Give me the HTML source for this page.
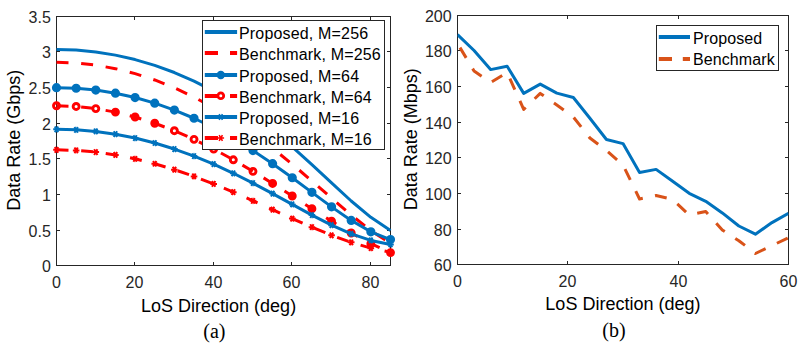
<!DOCTYPE html>
<html><head><meta charset="utf-8"><style>
html,body{margin:0;padding:0;background:#fff;}
svg{display:block;}
.t16{font-family:"Liberation Sans",sans-serif;font-size:16px;fill:#262626;}
.t18{font-family:"Liberation Sans",sans-serif;font-size:18px;fill:#000;}
.ls{letter-spacing:0.17px;fill:#000;}
.ts{font-family:"Liberation Serif",serif;font-size:20px;fill:#000;}
</style></head><body>
<svg width="803" height="344" viewBox="0 0 803 344">
<rect width="803" height="344" fill="#fff"/>
<rect x="56.5" y="16.5" width="334.0" height="249.0" fill="#fff" stroke="none"/>
<path d="M56.5,265.5v-3.5M56.5,16.5v3.5M134.5,265.5v-3.5M134.5,16.5v3.5M213.5,265.5v-3.5M213.5,16.5v3.5M291.5,265.5v-3.5M291.5,16.5v3.5M370.5,265.5v-3.5M370.5,16.5v3.5M56.5,265.5h3.5M390.5,265.5h-3.5M56.5,230.5h3.5M390.5,230.5h-3.5M56.5,194.5h3.5M390.5,194.5h-3.5M56.5,158.5h3.5M390.5,158.5h-3.5M56.5,123.5h3.5M390.5,123.5h-3.5M56.5,87.5h3.5M390.5,87.5h-3.5M56.5,51.5h3.5M390.5,51.5h-3.5M56.5,16.5h3.5M390.5,16.5h-3.5" stroke="#262626" stroke-width="1" fill="none"/>
<rect x="56.5" y="16.5" width="334.0" height="249.0" fill="none" stroke="#262626" stroke-width="1"/>
<clipPath id="cl"><rect x="50.5" y="10.5" width="346.0" height="261.0"/></clipPath>
<g clip-path="url(#cl)"><polyline points="56.50,49.47 76.15,50.10 95.79,51.98 115.44,55.13 135.09,59.58 154.74,65.37 174.38,72.52 194.03,81.10 213.68,91.17 233.32,102.77 252.97,115.94 272.62,130.70 292.26,146.98 311.91,164.53 331.56,182.87 351.21,201.01 370.85,217.29 390.50,230.47" fill="none" stroke="#0072BD" stroke-width="3.0" stroke-linejoin="round" stroke-linecap="butt"/><polyline points="56.50,62.30 76.15,63.00 95.79,65.12 115.44,68.65 135.09,73.60 154.74,79.98 174.38,87.81 194.03,97.08 213.68,107.80 233.32,119.94 252.97,133.46 272.62,148.26 292.26,164.19 311.91,180.96 331.56,198.14 351.21,215.04 370.85,230.58 390.50,243.16" fill="none" stroke="#FF0000" stroke-width="3.0" stroke-linejoin="round" stroke-linecap="butt" stroke-dasharray="12 12.7"/><polyline points="56.50,87.64 76.15,88.26 95.79,90.10 115.44,93.19 135.09,97.54 154.74,103.15 174.38,110.05 194.03,118.25 213.68,127.75 233.32,138.53 252.97,150.56 272.62,163.70 292.26,177.75 311.91,192.34 331.56,206.86 351.21,220.41 370.85,231.79 390.50,239.60" fill="none" stroke="#0072BD" stroke-width="3.0" stroke-linejoin="round" stroke-linecap="butt"/><circle cx="56.50" cy="87.64" r="3.3" fill="#0072BD" stroke="#0072BD" stroke-width="2.6"/><circle cx="76.15" cy="88.26" r="3.3" fill="#0072BD" stroke="#0072BD" stroke-width="2.6"/><circle cx="95.79" cy="90.10" r="3.3" fill="#0072BD" stroke="#0072BD" stroke-width="2.6"/><circle cx="115.44" cy="93.19" r="3.3" fill="#0072BD" stroke="#0072BD" stroke-width="2.6"/><circle cx="135.09" cy="97.54" r="3.3" fill="#0072BD" stroke="#0072BD" stroke-width="2.6"/><circle cx="154.74" cy="103.15" r="3.3" fill="#0072BD" stroke="#0072BD" stroke-width="2.6"/><circle cx="174.38" cy="110.05" r="3.3" fill="#0072BD" stroke="#0072BD" stroke-width="2.6"/><circle cx="194.03" cy="118.25" r="3.3" fill="#0072BD" stroke="#0072BD" stroke-width="2.6"/><circle cx="213.68" cy="127.75" r="3.3" fill="#0072BD" stroke="#0072BD" stroke-width="2.6"/><circle cx="233.32" cy="138.53" r="3.3" fill="#0072BD" stroke="#0072BD" stroke-width="2.6"/><circle cx="252.97" cy="150.56" r="3.3" fill="#0072BD" stroke="#0072BD" stroke-width="2.6"/><circle cx="272.62" cy="163.70" r="3.3" fill="#0072BD" stroke="#0072BD" stroke-width="2.6"/><circle cx="292.26" cy="177.75" r="3.3" fill="#0072BD" stroke="#0072BD" stroke-width="2.6"/><circle cx="311.91" cy="192.34" r="3.3" fill="#0072BD" stroke="#0072BD" stroke-width="2.6"/><circle cx="331.56" cy="206.86" r="3.3" fill="#0072BD" stroke="#0072BD" stroke-width="2.6"/><circle cx="351.21" cy="220.41" r="3.3" fill="#0072BD" stroke="#0072BD" stroke-width="2.6"/><circle cx="370.85" cy="231.79" r="3.3" fill="#0072BD" stroke="#0072BD" stroke-width="2.6"/><circle cx="390.50" cy="239.60" r="3.3" fill="#0072BD" stroke="#0072BD" stroke-width="2.6"/><polyline points="56.50,105.75 76.15,106.46 95.79,108.59 115.44,112.12 135.09,117.01 154.74,123.23 174.38,130.71 194.03,139.37 213.68,149.11 233.32,159.82 252.97,171.33 272.62,183.47 292.26,196.01 311.91,208.67 331.56,221.14 351.21,233.00 370.85,243.74 390.50,252.59" fill="none" stroke="#FF0000" stroke-width="3.0" stroke-linejoin="round" stroke-linecap="butt" stroke-dasharray="12 12.7"/><circle cx="56.50" cy="105.75" r="3.0" fill="none" stroke="#FF0000" stroke-width="2.9"/><circle cx="76.15" cy="106.46" r="3.0" fill="none" stroke="#FF0000" stroke-width="2.9"/><circle cx="95.79" cy="108.59" r="3.0" fill="none" stroke="#FF0000" stroke-width="2.9"/><circle cx="115.44" cy="112.12" r="3.0" fill="#FF0000" stroke="#FF0000" stroke-width="2.9"/><circle cx="135.09" cy="117.01" r="3.0" fill="#FF0000" stroke="#FF0000" stroke-width="2.9"/><circle cx="154.74" cy="123.23" r="3.0" fill="#FF0000" stroke="#FF0000" stroke-width="2.9"/><circle cx="174.38" cy="130.71" r="3.0" fill="none" stroke="#FF0000" stroke-width="2.9"/><circle cx="194.03" cy="139.37" r="3.0" fill="none" stroke="#FF0000" stroke-width="2.9"/><circle cx="213.68" cy="149.11" r="3.0" fill="none" stroke="#FF0000" stroke-width="2.9"/><circle cx="233.32" cy="159.82" r="3.0" fill="none" stroke="#FF0000" stroke-width="2.9"/><circle cx="252.97" cy="171.33" r="3.0" fill="none" stroke="#FF0000" stroke-width="2.9"/><circle cx="272.62" cy="183.47" r="3.0" fill="#FF0000" stroke="#FF0000" stroke-width="2.9"/><circle cx="292.26" cy="196.01" r="3.0" fill="#FF0000" stroke="#FF0000" stroke-width="2.9"/><circle cx="311.91" cy="208.67" r="3.0" fill="#FF0000" stroke="#FF0000" stroke-width="2.9"/><circle cx="331.56" cy="221.14" r="3.0" fill="#FF0000" stroke="#FF0000" stroke-width="2.9"/><circle cx="351.21" cy="233.00" r="3.0" fill="#FF0000" stroke="#FF0000" stroke-width="2.9"/><circle cx="370.85" cy="243.74" r="3.0" fill="#FF0000" stroke="#FF0000" stroke-width="2.9"/><circle cx="390.50" cy="252.59" r="3.0" fill="none" stroke="#FF0000" stroke-width="2.9"/><polyline points="56.50,129.28 76.15,129.83 95.79,131.48 115.44,134.23 135.09,138.07 154.74,143.01 174.38,149.04 194.03,156.12 213.68,164.23 233.32,173.27 252.97,183.14 272.62,193.61 292.26,204.41 311.91,215.10 331.56,225.13 351.21,233.82 370.85,240.45 390.50,244.48" fill="none" stroke="#0072BD" stroke-width="3.0" stroke-linejoin="round" stroke-linecap="butt"/><path d="M53.20,129.28h6.60M54.85,126.43l3.30,5.72M54.85,132.14l3.30,-5.72M72.85,129.83h6.60M74.50,126.97l3.30,5.72M74.50,132.69l3.30,-5.72M92.49,131.48h6.60M94.14,128.62l3.30,5.72M94.14,134.34l3.30,-5.72M112.14,134.23h6.60M113.79,131.37l3.30,5.72M113.79,137.09l3.30,-5.72M131.79,138.07h6.60M133.44,135.21l3.30,5.72M133.44,140.93l3.30,-5.72M151.44,143.01h6.60M153.09,140.16l3.30,5.72M153.09,145.87l3.30,-5.72M171.08,149.04h6.60M172.73,146.18l3.30,5.72M172.73,151.90l3.30,-5.72M190.73,156.12h6.60M192.38,153.27l3.30,5.72M192.38,158.98l3.30,-5.72M210.38,164.23h6.60M212.03,161.37l3.30,5.72M212.03,167.09l3.30,-5.72M230.02,173.27h6.60M231.67,170.42l3.30,5.72M231.67,176.13l3.30,-5.72M249.67,183.14h6.60M251.32,180.28l3.30,5.72M251.32,185.99l3.30,-5.72M269.32,193.61h6.60M270.97,190.76l3.30,5.72M270.97,196.47l3.30,-5.72M288.96,204.41h6.60M290.61,201.55l3.30,5.72M290.61,207.27l3.30,-5.72M308.61,215.10h6.60M310.26,212.25l3.30,5.72M310.26,217.96l3.30,-5.72M328.26,225.13h6.60M329.91,222.27l3.30,5.72M329.91,227.99l3.30,-5.72M347.91,233.82h6.60M349.56,230.96l3.30,5.72M349.56,236.67l3.30,-5.72M367.55,240.45h6.60M369.20,237.60l3.30,5.72M369.20,243.31l3.30,-5.72M387.20,244.48h6.60M388.85,241.62l3.30,5.72M388.85,247.34l3.30,-5.72" stroke="#0072BD" stroke-width="2.0" fill="none"/><polyline points="56.50,149.82 76.15,150.39 95.79,152.09 115.44,154.91 135.09,158.81 154.74,163.74 174.38,169.64 194.03,176.42 213.68,183.97 233.32,192.15 252.97,200.79 272.62,209.68 292.26,218.59 311.91,227.22 331.56,235.26 351.21,242.37 370.85,248.14 390.50,252.16" fill="none" stroke="#FF0000" stroke-width="3.0" stroke-linejoin="round" stroke-linecap="butt" stroke-dasharray="12 12.7"/><path d="M53.20,149.82h6.60M54.85,146.96l3.30,5.72M54.85,152.68l3.30,-5.72M72.85,150.39h6.60M74.50,147.53l3.30,5.72M74.50,153.25l3.30,-5.72M92.49,152.09h6.60M94.14,149.24l3.30,5.72M94.14,154.95l3.30,-5.72M112.14,154.91h6.60M113.79,152.05l3.30,5.72M113.79,157.77l3.30,-5.72M131.79,158.81h6.60M133.44,155.95l3.30,5.72M133.44,161.67l3.30,-5.72M151.44,163.74h6.60M153.09,160.89l3.30,5.72M153.09,166.60l3.30,-5.72M171.08,169.64h6.60M172.73,166.78l3.30,5.72M172.73,172.50l3.30,-5.72M190.73,176.42h6.60M192.38,173.56l3.30,5.72M192.38,179.28l3.30,-5.72M210.38,183.97h6.60M212.03,181.11l3.30,5.72M212.03,186.83l3.30,-5.72M230.02,192.15h6.60M231.67,189.29l3.30,5.72M231.67,195.01l3.30,-5.72M249.67,200.79h6.60M251.32,197.93l3.30,5.72M251.32,203.64l3.30,-5.72M269.32,209.68h6.60M270.97,206.82l3.30,5.72M270.97,212.54l3.30,-5.72M288.96,218.59h6.60M290.61,215.73l3.30,5.72M290.61,221.44l3.30,-5.72M308.61,227.22h6.60M310.26,224.36l3.30,5.72M310.26,230.08l3.30,-5.72M328.26,235.26h6.60M329.91,232.41l3.30,5.72M329.91,238.12l3.30,-5.72M347.91,242.37h6.60M349.56,239.51l3.30,5.72M349.56,245.22l3.30,-5.72M367.55,248.14h6.60M369.20,245.28l3.30,5.72M369.20,251.00l3.30,-5.72M387.20,252.16h6.60M388.85,249.30l3.30,5.72M388.85,255.02l3.30,-5.72" stroke="#FF0000" stroke-width="2.0" fill="none"/></g>
<rect x="202.5" y="20.5" width="182.0" height="129.0" fill="#fff" stroke="#262626" stroke-width="1"/>
<line x1="204.8" y1="32" x2="237.1" y2="32" stroke="#0072BD" stroke-width="4"/>
<text x="239" y="38.5" class="t16 ls">Proposed, M=256</text>
<path d="M204.8,53H218M230,53H237.1" stroke="#FF0000" stroke-width="4"/>
<text x="239" y="59.5" class="t16 ls">Benchmark, M=256</text>
<line x1="204.8" y1="75" x2="237.1" y2="75" stroke="#0072BD" stroke-width="4"/>
<circle cx="220.8" cy="75" r="3.0" fill="#0072BD" stroke="#0072BD" stroke-width="2.4"/>
<text x="239" y="81.5" class="t16 ls">Proposed, M=64</text>
<path d="M204.8,96H218M230,96H237.1" stroke="#FF0000" stroke-width="4"/>
<circle cx="220.8" cy="95.7" r="2.9" fill="#fff" stroke="#FF0000" stroke-width="2.8"/>
<text x="239" y="102.5" class="t16 ls">Benchmark, M=64</text>
<line x1="204.8" y1="117" x2="237.1" y2="117" stroke="#0072BD" stroke-width="4"/>
<path d="M217.50,117.00h6.60M219.15,114.14l3.30,5.72M219.15,119.86l3.30,-5.72" stroke="#0072BD" stroke-width="1.6" fill="none"/>
<text x="239" y="123.5" class="t16 ls">Proposed, M=16</text>
<path d="M204.8,138H218M230,138H237.1" stroke="#FF0000" stroke-width="4"/>
<path d="M217.50,138.00h6.60M219.15,135.14l3.30,5.72M219.15,140.86l3.30,-5.72" stroke="#FF0000" stroke-width="1.6" fill="none"/>
<text x="239" y="144.5" class="t16 ls">Benchmark, M=16</text>
<text x="50.8" y="272" class="t16" text-anchor="end">0</text>
<text x="50.8" y="237" class="t16" text-anchor="end">0.5</text>
<text x="50.8" y="201" class="t16" text-anchor="end">1</text>
<text x="50.8" y="165" class="t16" text-anchor="end">1.5</text>
<text x="50.8" y="130" class="t16" text-anchor="end">2</text>
<text x="50.8" y="94" class="t16" text-anchor="end">2.5</text>
<text x="50.8" y="58" class="t16" text-anchor="end">3</text>
<text x="50.8" y="23" class="t16" text-anchor="end">3.5</text>
<text x="56.5" y="287.8" class="t16" text-anchor="middle">0</text>
<text x="134.5" y="287.8" class="t16" text-anchor="middle">20</text>
<text x="213.5" y="287.8" class="t16" text-anchor="middle">40</text>
<text x="291.5" y="287.8" class="t16" text-anchor="middle">60</text>
<text x="370.5" y="287.8" class="t16" text-anchor="middle">80</text>
<text x="218.6" y="312.2" class="t18" text-anchor="middle">LoS Direction (deg)</text>
<text transform="translate(20,140.25) rotate(-90)" class="t18" text-anchor="middle">Data Rate (Gbps)</text>
<text x="214.4" y="338" class="ts" text-anchor="middle">(a)</text>
<path d="M457.5,264.5v-3.5M457.5,15.5v3.5M567.5,264.5v-3.5M567.5,15.5v3.5M678.5,264.5v-3.5M678.5,15.5v3.5M788.5,264.5v-3.5M788.5,15.5v3.5M457.5,264.5h3.5M788.5,264.5h-3.5M457.5,229.5h3.5M788.5,229.5h-3.5M457.5,193.5h3.5M788.5,193.5h-3.5M457.5,157.5h3.5M788.5,157.5h-3.5M457.5,122.5h3.5M788.5,122.5h-3.5M457.5,86.5h3.5M788.5,86.5h-3.5M457.5,50.5h3.5M788.5,50.5h-3.5M457.5,15.5h3.5M788.5,15.5h-3.5" stroke="#262626" stroke-width="1" fill="none"/>
<rect x="457.5" y="15.5" width="331.0" height="249.0" fill="none" stroke="#262626" stroke-width="1"/>
<clipPath id="cr"><rect x="457.5" y="9.5" width="331.0" height="261.0"/></clipPath>
<g clip-path="url(#cr)"><polyline points="457.50,34.60 474.05,50.50 490.60,69.60 507.15,66.30 523.70,93.40 540.25,84.10 556.80,93.10 573.35,97.50 589.90,118.30 606.45,139.50 623.00,143.60 639.55,172.50 656.10,169.40 672.65,181.30 689.20,193.30 705.75,201.30 722.30,212.90 738.85,226.00 755.40,234.20 771.95,222.60 788.50,213.30" fill="none" stroke="#0072BD" stroke-width="3.0" stroke-linejoin="round" stroke-linecap="butt"/><polyline points="457.50,43.50 474.05,71.00 490.60,82.50 507.15,72.50 523.70,109.40 540.25,93.40 556.80,105.00 573.35,117.00 589.90,138.00 606.45,150.50 623.00,165.00 639.55,199.00 656.10,195.50 672.65,199.50 689.20,215.00 705.75,211.50 722.30,230.00 738.85,240.70 755.40,253.50 771.95,245.60 788.50,237.70" fill="none" stroke="#D95319" stroke-width="3.0" stroke-linejoin="round" stroke-dasharray="12 12.5" stroke-dashoffset="-4.8"/></g>
<rect x="656.5" y="25.5" width="122.0" height="45.0" fill="#fff" stroke="#262626" stroke-width="1"/>
<line x1="658.8" y1="37" x2="690" y2="37" stroke="#0072BD" stroke-width="4"/>
<path d="M658.8,59H672M682.8,59H690" stroke="#D95319" stroke-width="4"/>
<text x="693" y="43.6" class="t16" letter-spacing="0.1" fill="#000" style="fill:#000">Proposed</text>
<text x="693" y="64.6" class="t16" letter-spacing="0.1" fill="#000" style="fill:#000">Benchmark</text>
<text x="451.6" y="271" class="t16" text-anchor="end">60</text>
<text x="451.6" y="236" class="t16" text-anchor="end">80</text>
<text x="451.6" y="200" class="t16" text-anchor="end">100</text>
<text x="451.6" y="164" class="t16" text-anchor="end">120</text>
<text x="451.6" y="129" class="t16" text-anchor="end">140</text>
<text x="451.6" y="93" class="t16" text-anchor="end">160</text>
<text x="451.6" y="57" class="t16" text-anchor="end">180</text>
<text x="451.6" y="22" class="t16" text-anchor="end">200</text>
<text x="457.5" y="286.8" class="t16" text-anchor="middle">0</text>
<text x="567.5" y="286.8" class="t16" text-anchor="middle">20</text>
<text x="678.5" y="286.8" class="t16" text-anchor="middle">40</text>
<text x="788.5" y="286.8" class="t16" text-anchor="middle">60</text>
<text x="622.9" y="309.8" class="t18" text-anchor="middle">LoS Direction (deg)</text>
<text transform="translate(416.8,139.15) rotate(-90)" class="t18" text-anchor="middle">Data Rate (Mbps)</text>
<text x="614" y="337" class="ts" text-anchor="middle">(b)</text>
</svg>
</body></html>
